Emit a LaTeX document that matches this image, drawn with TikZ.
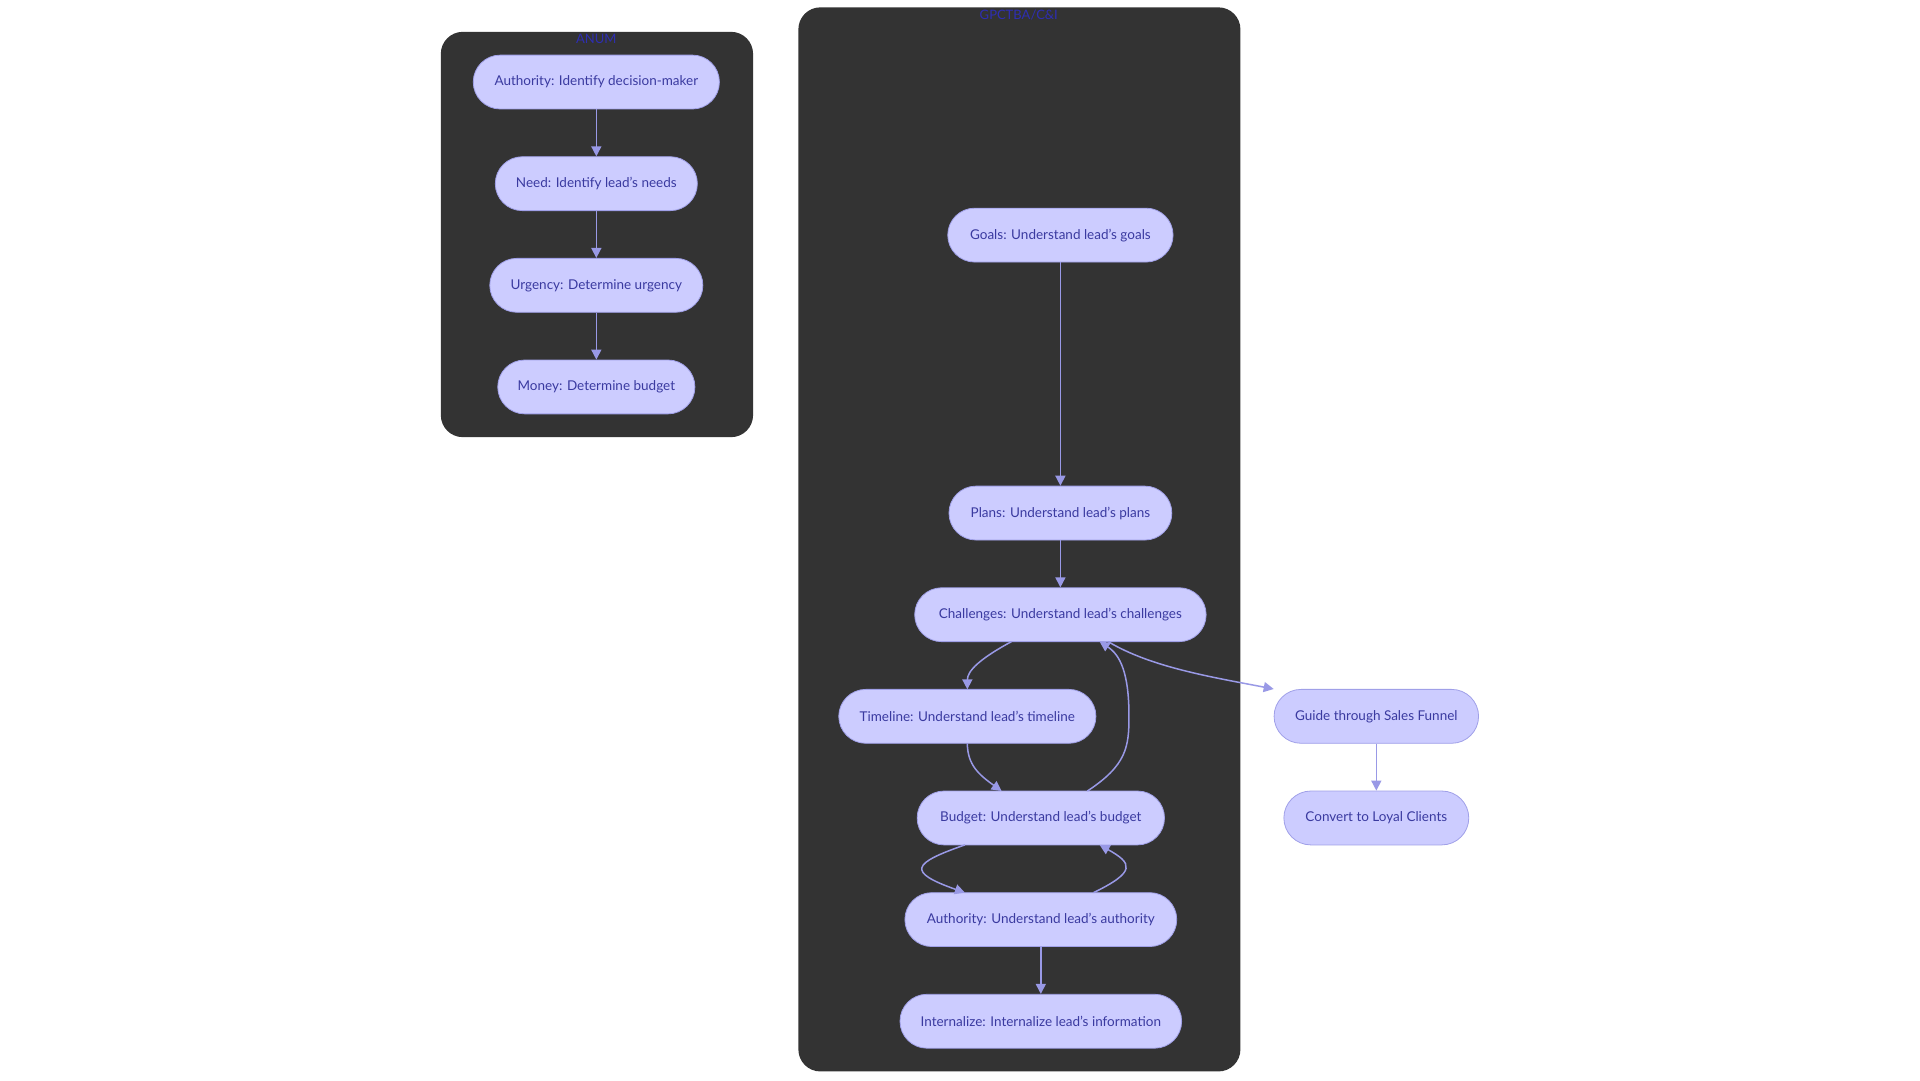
\documentclass[tikz,border=0pt]{standalone}
\usepackage{fontspec}
\setmainfont{Lato}
\usetikzlibrary{arrows.meta}
\definecolor{nfill}{HTML}{CCCCFF}
\definecolor{nline}{HTML}{A0A0E8}
\definecolor{ntext}{HTML}{3A3AA0}
\definecolor{edge}{HTML}{9999E6}
\definecolor{cluster}{HTML}{333333}
\tikzset{
 nd/.style={draw=nline,fill=nfill,text=ntext,rounded corners=22*1.2245pt,minimum height=44*1.2245pt,font=\fontsize{13.5}{15}\selectfont,inner sep=0pt,line width=0.8pt},
 ar/.style={draw=edge,line width=1.5pt,-{Triangle[length=10pt,width=10pt]}},
 cl/.style={fill=cluster,rounded corners=22pt},
 ttl/.style={text=ntext!80!blue,font=\fontsize{13}{14}\selectfont}
}
\begin{document}
\begin{tikzpicture}[x=1.2245pt,y=-1.2245pt]
\useasboundingbox (0,0) rectangle (1568,882);
\fill[white] (0,0) rectangle (1568,882);
\fill[cl] (360,26) rectangle (615,357);
\node[ttl] at (487,32) {ANUM};
\fill[cl] (652,6) rectangle (1013,875);
\node[ttl] at (832,12) {GPCTBA/C\&I};
\node[nd,minimum width=201*1.2245pt] (a1) at (487,67) {Authority: Identify decision-maker};
\node[nd,minimum width=165*1.2245pt] (n) at (487,150) {Need: Identify lead's needs};
\node[nd,minimum width=174*1.2245pt] (u) at (487,233) {Urgency: Determine urgency};
\node[nd,minimum width=161*1.2245pt] (m) at (487,316) {Money: Determine budget};
\node[nd,minimum width=184*1.2245pt] (g) at (866,192) {Goals: Understand lead's goals};
\node[nd,minimum width=182*1.2245pt] (p) at (866,419) {Plans: Understand lead's plans};
\node[nd,minimum width=238*1.2245pt] (c) at (866,502) {Challenges: Understand lead's challenges};
\node[nd,minimum width=210*1.2245pt] (t) at (790,585) {Timeline: Understand lead's timeline};
\node[nd,minimum width=202*1.2245pt] (b) at (850,668) {Budget: Understand lead's budget};
\node[nd,minimum width=222*1.2245pt] (a2) at (850,751) {Authority: Understand lead's authority};
\node[nd,minimum width=230*1.2245pt] (i) at (850,834) {Internalize: Internalize lead's information};
\node[nd,minimum width=167*1.2245pt] (gf) at (1124,585) {Guide through Sales Funnel};
\node[nd,minimum width=151*1.2245pt] (cv) at (1124,668) {Convert to Loyal Clients};
\draw[ar] (a1) -- (n);
\draw[ar] (n) -- (u);
\draw[ar] (u) -- (m);
\draw[ar] (g) -- (p);
\draw[ar] (p) -- (c);
\draw[ar] (a2) -- (i);
\draw[ar] (gf) -- (cv);
\coordinate (c1) at (826,524); \coordinate (t1) at (790,563);
\draw[ar] (c1) .. controls (800,538) and (790,548) .. (t1);
\coordinate (t2) at (790,607); \coordinate (b1) at (818,646);
\draw[ar] (t2) .. controls (790,625) and (800,633) .. (b1);
\coordinate (b2) at (888,646); \coordinate (c2) at (898,524);
\draw[ar] (b2) .. controls (920,625) and (922,610) .. (922,585) .. controls (922,550) and (915,535) .. (c2);
\coordinate (b3) at (788,690); \coordinate (a3) at (788,729);
\draw[ar] (b3) .. controls (745,705) and (740,712) .. (a3);
\coordinate (a4) at (893,729); \coordinate (b4) at (898,690);
\draw[ar] (a4) .. controls (928,712) and (925,705) .. (b4);
\coordinate (c3) at (905,524);
\draw[ar] (c3) .. controls (940,545) and (990,553) .. (gf.north west);
\end{tikzpicture}
\end{document}
